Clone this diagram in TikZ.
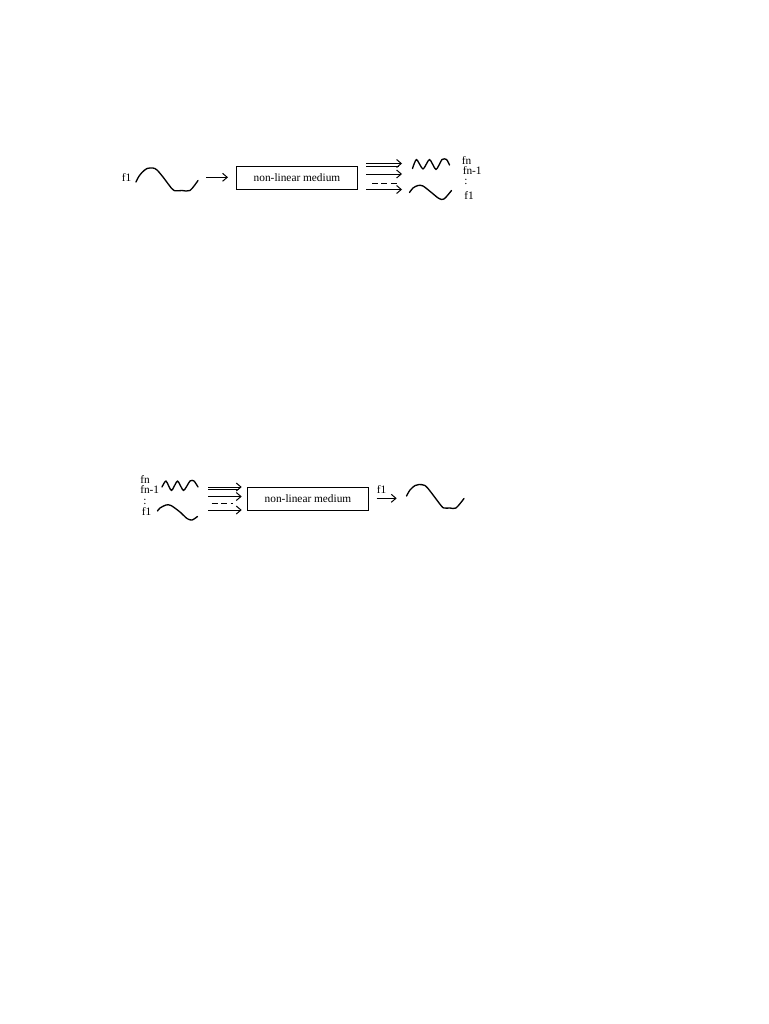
\documentclass[tikz,border=0pt]{standalone}
\usepackage{fontspec}
\setmainfont{Liberation Serif}
\usetikzlibrary{arrows.meta}
\begin{document}
\begin{tikzpicture}[x=0.75pt,y=-0.75pt,
  every node/.style={font=\fontsize{8.5}{10}\selectfont, inner sep=0pt},
  medium/.style={draw, line width=0.75pt, minimum width=90.75pt, minimum height=17.5pt},
  arr/.style={line width=0.75pt, -{Straight Barb[length=3.5pt,width=6pt]}},
  plainline/.style={line width=0.75pt},
  dashline/.style={line width=0.75pt, dash pattern=on 4.5pt off 2.6pt},
  wave/.style={line width=1pt, line join=round, line cap=round}
]
\fill[white] (0,0) rectangle (768,1024);
\useasboundingbox (0,0) rectangle (768,1024);

% ---------- top diagram ----------
\node[medium] (m1) at (297,177.8) {non-linear medium};
\node[anchor=west] (t_f1in) at (121.5,178) {f1};
\draw[wave] plot[smooth, tension=0.5] coordinates {(136,182) (138.5,177) (142,172.5) (147,168.5) (153,168) (157,170) (163,177) (169,185) (174,190.5) (182,190.5) (190,190.5) (198,180.5)};
\coordinate (t_in_s) at (206,177.3);
\coordinate (t_in_e) at (228,177.3);
\draw[arr] (t_in_s) -- (t_in_e);

\coordinate (t_o1s) at (366,163.5);
\coordinate (t_o1e) at (402,164.5);
\coordinate (t_o1bs) at (366,166);
\coordinate (t_o1be) at (399,166);
\draw[arr] (t_o1s) -- (t_o1e |- t_o1s);
\draw[plainline] (t_o1bs) -- (t_o1be);
\coordinate (t_o2s) at (366,174);
\coordinate (t_o2e) at (402,174);
\draw[arr] (t_o2s) -- (t_o2e);
\coordinate (t_dss) at (372,183.5);
\coordinate (t_dse) at (397,183.5);
\draw[dashline] (t_dss) -- (t_dse);
\coordinate (t_o3s) at (366,189.5);
\coordinate (t_o3e) at (402,189.5);
\draw[arr] (t_o3s) -- (t_o3e);

\draw[wave] plot[smooth, tension=0.4] coordinates {(412.5,168.5) (416.5,159.5) (423,169) (429.5,159.5) (436,169.5) (442,159.5) (446.5,159.5) (449.5,165)};
\draw[wave] plot[smooth, tension=0.5] coordinates {(409.5,192.5) (413,188) (418,185.5) (423,186) (432,193) (439,198.5) (444,199) (451.5,190.5)};

\node[anchor=west] (t_fn) at (461.5,160.6) {fn};
\node[anchor=west] (t_fn1) at (462.5,170.2) {fn-1};
\node (t_dots) at (466,182.3) {:};
\node[anchor=west] (t_f1) at (464,195.5) {f1};

% ---------- bottom diagram ----------
\node[medium] (m2) at (308,499) {non-linear medium};
\node[anchor=west] (b_fn) at (140,479.6) {fn};
\node[anchor=west] (b_fn1) at (140,489.2) {fn-1};
\node (b_dots) at (145,501.5) {:};
\node[anchor=west] (b_f1) at (141.5,511.9) {f1};

\draw[wave] plot[smooth, tension=0.4] coordinates {(162,487) (166,481) (171.5,490.5) (177.5,481) (183.5,490.5) (190,481) (194,481) (198,487)};
\draw[wave] plot[smooth, tension=0.5] coordinates {(157.5,511) (160,508) (166,505) (171,505.5) (180,512) (187,518.5) (192,520) (197.5,516.5)};

\coordinate (b_i1s) at (208.3,487);
\coordinate (b_i1e) at (241.7,488);
\coordinate (b_i1bs) at (208.3,489.5);
\coordinate (b_i1be) at (238.7,489.5);
\draw[arr] (b_i1s) -- (b_i1e |- b_i1s);
\draw[plainline] (b_i1bs) -- (b_i1be);
\coordinate (b_i2s) at (208.3,496.5);
\coordinate (b_i2e) at (241.7,496.5);
\draw[arr] (b_i2s) -- (b_i2e);
\coordinate (b_dss) at (211.7,503);
\coordinate (b_dse) at (233.3,503);
\draw[dashline] (b_dss) -- (b_dse);
\coordinate (b_i3s) at (208.3,510);
\coordinate (b_i3e) at (241.7,510);
\draw[arr] (b_i3s) -- (b_i3e);

\node[anchor=west] (b_f1out) at (376.7,490) {f1};
\coordinate (b_os) at (376.7,498.3);
\coordinate (b_oe) at (396.7,498.3);
\draw[arr] (b_os) -- (b_oe);
\draw[wave] plot[smooth, tension=0.5] coordinates {(406.5,496) (410,490) (415,485.5) (419,484.5) (425,485.5) (430,491) (441,505.5) (444,508) (450,508) (456,508) (464,498.5)};
\end{tikzpicture}
\end{document}
